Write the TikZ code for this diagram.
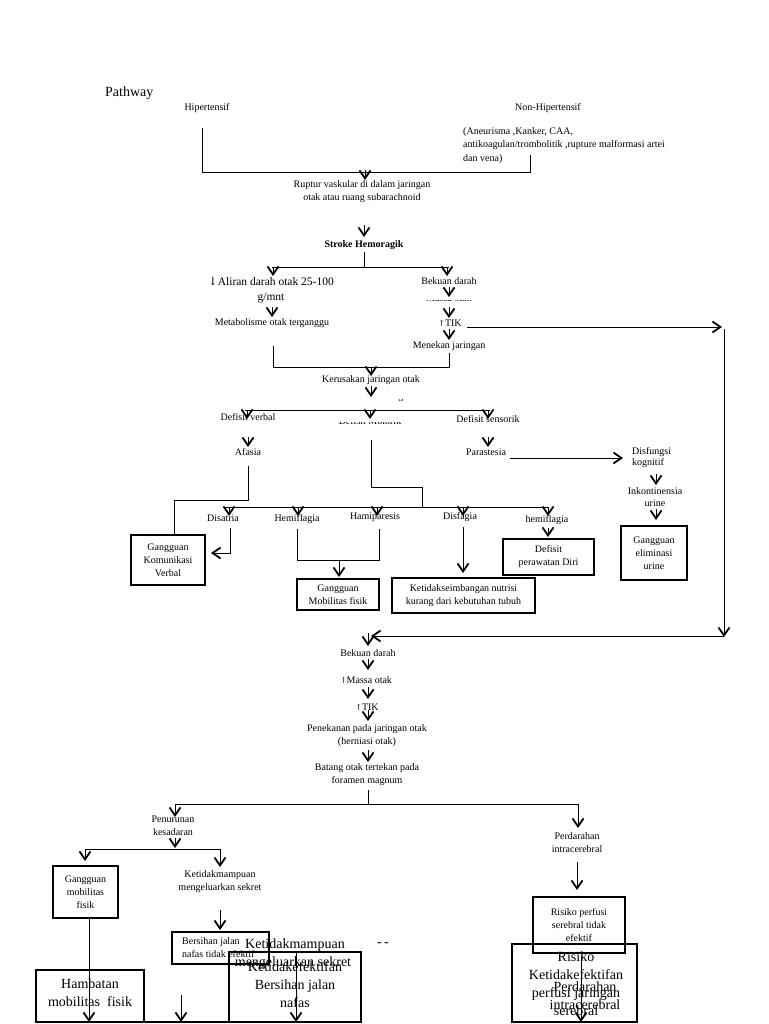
\documentclass[tikz,border=0pt]{standalone}
\usepackage{fontspec}
\setmainfont{Liberation Serif}
\newfontfamily\arrfont{DejaVu Serif}
\usetikzlibrary{arrows.meta}
\begin{document}
\begin{tikzpicture}[x=1pt,y=-1pt,
 lbl/.style={font=\fontsize{10}{13}\selectfont, align=center, inner sep=0pt},
 lbltight/.style={font=\fontsize{10}{11.5}\selectfont, align=center, inner sep=0pt},
 bigt/.style={font=\fontsize{14}{18}\selectfont, align=center, inner sep=0pt},
 ln/.style={line width=1pt},
 arr/.style={line width=1pt, -{Straight Barb[length=8pt,width=11pt,line width=1.8pt]}},
 bx/.style={draw, line width=2.4pt, inner sep=0pt, align=center, font=\fontsize{10}{13}\selectfont},
 thick box/.style={draw, line width=2.4pt},
]
\useasboundingbox (0,0) rectangle (768,1024);

% ---------- top ----------
\node[font=\fontsize{14}{16}\selectfont, anchor=west, inner sep=0pt] (pw) at (105,93) {Pathway};
\node[lbl] (hip) at (207,108) {Hipertensif};
\node[lbl] (nhip) at (548,108) {Non-Hipertensif};
\node[font=\fontsize{10}{13.5}\selectfont, align=left, anchor=north west, inner sep=0pt] (sebab) at (463,127) {(Aneurisma ,Kanker, CAA,\\antikoagulan/trombolitik ,rupture malformasi artei\\dan vena)};
\coordinate (jl) at (202,173);
\coordinate (jr) at (530,173);
\draw[ln] (202,128) -- (jl) -- (jr) -- (530,155);
\draw[arr] (365,170) -- (365,180);
\node[lbl] (rupt) at (362,191.5) {Ruptur vaskular di dalam jaringan\\otak atau ruang subarachnoid};

\draw[arr] (364,225) -- (364,237);
\node[lbl] (strk) at (364,245) {\textbf{Stroke Hemoragik}};
\draw[ln] (364,252) -- (364,267);
\draw[ln] (272,267) -- (449,267);
\draw[arr] (273,267) -- (273,276);
\draw[arr] (447,267) -- (447,276);

\node[font=\fontsize{11.5}{15}\selectfont, align=center, inner sep=0pt] (alir) at (271,290.5) {{\arrfont ↓}Aliran darah otak 25-100\\g/mnt};
\draw[arr] (272,307) -- (272,317);
\node[lbl] (metab) at (272,323) {Metabolisme otak terganggu};

\node[lbl] (bek1) at (449,281) {Bekuan darah};
\draw[arr] (449,287) -- (449,297);
\begin{scope}
\clip (400,300) rectangle (500,312);
\node[lbl] (massa1) at (449,298) {Massa otak};
\end{scope}
\draw[arr] (449,307) -- (449,318);
\node[lbl] (tik1) at (450,323) {{\arrfont\fontsize{8}{10}\selectfont ↑}TIK};
\draw[arr] (467,327) -- (722,327);
\draw[arr] (724,329) -- (724,637);
\draw[arr] (724,636) -- (371,636);
\draw[arr] (449,329) -- (449,340);
\node[lbl] (mnk) at (449,346) {Menekan jaringan};

\draw[ln] (273,346) -- (273,367) -- (449,367) -- (449,353);
\draw[arr] (371,367) -- (371,376);
\node[lbl] (kerus) at (371,380) {Kerusakan jaringan otak};
\draw[arr] (371,386) -- (371,397);
\begin{scope}
\clip (320,399) rectangle (420,412);
\node[lbl] (neuro) at (371,397.5) {Defisit Neurologi};
\end{scope}

\draw[ln] (245,410) -- (490,410);
\draw[arr] (247,410) -- (247,419);
\draw[arr] (370,410) -- (370,419);
\draw[arr] (488,410) -- (488,419);
\node[lbl] (dverb) at (248,417) {Defisit verbal};
\begin{scope}
\clip (320,422) rectangle (420,434);
\node[lbl] (dmot) at (370,421) {Defisit Motorik};
\end{scope}
\node[lbl] (dsens) at (488,419) {Defisit sensorik};

\draw[arr] (248,437) -- (248,447);
\draw[arr] (488,437) -- (488,447);
\node[lbl] (afas) at (248,452) {Afasia};
\node[lbl] (paras) at (486,452) {Parastesia};
\draw[arr] (510,458) -- (623,458);
\node[lbltight, align=left, anchor=west] (disf) at (632,457.5) {Disfungsi\\kognitif};
\draw[arr] (656,474) -- (656,485);
\node[lbltight] (inkon) at (655,497) {Inkontinensia\\urine};
\draw[arr] (656,509) -- (656,520);
\node[bx, minimum width=66pt, minimum height=54pt] (elim) at (654,553) {Gangguan\\eliminasi\\urine};

\draw[ln] (248,466) -- (248,500) -- (174,500) -- (174,535);
\draw[ln] (371,440) -- (371,487) -- (422,487) -- (422,507);
\draw[ln] (225,507) -- (548,507);
\foreach \xx in {229,298,377,463,548} \draw[arr] (\xx,507) -- (\xx,516);
\node[lbl] (disat) at (223,518) {Disatria};
\node[lbl] (hemi1) at (297,519) {Hemiflagia};
\node[lbl] (hamip) at (375,517) {Hamiparesis};
\node[lbl] (disfa) at (460,517) {Disfagia};
\node[lbl] (hemi2) at (547,520) {hemiflagia};

\node[bx, minimum width=74pt, minimum height=50pt] (komv) at (168,560) {Gangguan\\Komunikasi\\Verbal};
\draw[arr] (230,528) -- (230,553) -- (211,553);
\draw[ln] (297,529) -- (297,560) -- (379,560) -- (379,529);
\draw[arr] (339,560) -- (339,577);
\node[bx, minimum width=82pt, minimum height=31pt] (mobf) at (338,594.5) {Gangguan\\Mobilitas fisik};
\draw[arr] (463,527) -- (463,573);
\node[bx, minimum width=143pt, minimum height=35pt] (nutr) at (463.5,595.5) {Ketidakseimbangan nutrisi\\kurang dari kebutuhan tubuh};
\draw[arr] (548,528) -- (548,537);
\node[bx, minimum width=91pt, minimum height=36pt] (dpd) at (548.5,557) {Defisit\\perawatan Diri};

% ---------- bottom ----------
\draw[arr] (368,633) -- (368,646);
\node[lbl] (bek2) at (368,653) {Bekuan darah};
\draw[arr] (368,659) -- (368,670);
\node[lbl] (massa2) at (366,680) {{\arrfont\fontsize{8}{10}\selectfont ↑}Massa otak};
\draw[arr] (368,687) -- (368,699);
\node[lbl] (tik2) at (367,707) {{\arrfont\fontsize{8}{10}\selectfont ↑}TIK};
\draw[arr] (368,710) -- (368,721);
\node[lbl] (penek) at (367,736) {Penekanan pada jaringan otak\\(herniasi otak)};
\draw[arr] (368,750) -- (368,762);
\node[lbl] (batang) at (367,775) {Batang otak tertekan pada\\foramen magnum};
\draw[ln] (368,790) -- (368,804);
\draw[ln] (175,804) -- (578,804);
\draw[arr] (175,804) -- (175,817);
\draw[arr] (578,804) -- (578,828);
\node[lbl] (penur) at (173,825.5) {Penurunan\\kesadaran};
\draw[arr] (175,838) -- (175,848);
\draw[ln] (85,849) -- (220,849);
\draw[arr] (85,849) -- (85,861);
\draw[arr] (220,849) -- (220,867);
\node[bx, minimum width=65pt, minimum height=52pt] (gmf) at (85.5,892) {Gangguan\\mobilitas\\fisik};
\node[lbl] (ketid) at (220,882) {Ketidakmampuan\\mengeluarkan sekret};
\draw[arr] (220,910) -- (220,930);

\node[lbl] (perd) at (577,842.5) {Perdarahan\\intracerebral};
\draw[arr] (577,862) -- (577,890);
\node[bx, minimum width=92pt, minimum height=56pt] (rpse) at (579,925) {Risiko perfusi\\serebral tidak\\efektif};

% small box Bersihan jalan
\draw[thick box] (172,932) rectangle (269,964);
\node[lbl, align=left, anchor=north west] (bjn) at (182,937) {Bersihan jalan\\nafas tidak efektif};

% big overlapping texts and boxes
\node[bigt] (ketbig) at (295,945) {Ketidakmampuan};
\node[bigt] (menbig) at (293,963) {mengeluarkan sekret};
\node[bigt] (dash) at (383,945) {-\,-};
\draw[thick box] (229,952) rectangle (361,1022);
\node[bigt] (kbj) at (295,984.5) {Ketidakefektifan\\Bersihan jalan\\nafas};
\draw[arr] (296,952) -- (296,1022);

\draw[thick box] (36,970) rectangle (144,1022);
\node[bigt] (hamb) at (90,992.5) {Hambatan\\mobilitas\ \ fisik};
\draw[arr] (89,918) -- (89,1022);
\draw[arr] (181,995) -- (181,1022);
\draw[line width=2.4pt] (36,1022) -- (361,1022);

\draw[thick box] (512,944) rectangle (637,1022);
\node[bigt] (risk) at (576,984) {Risiko\\Ketidakefektifan\\perfusi jaringan\\serebral};
\node[bigt] (perd2) at (585,996) {Perdarahan\\intracerebral};
\draw[arr] (581,955) -- (581,1022);
\end{tikzpicture}
\end{document}
